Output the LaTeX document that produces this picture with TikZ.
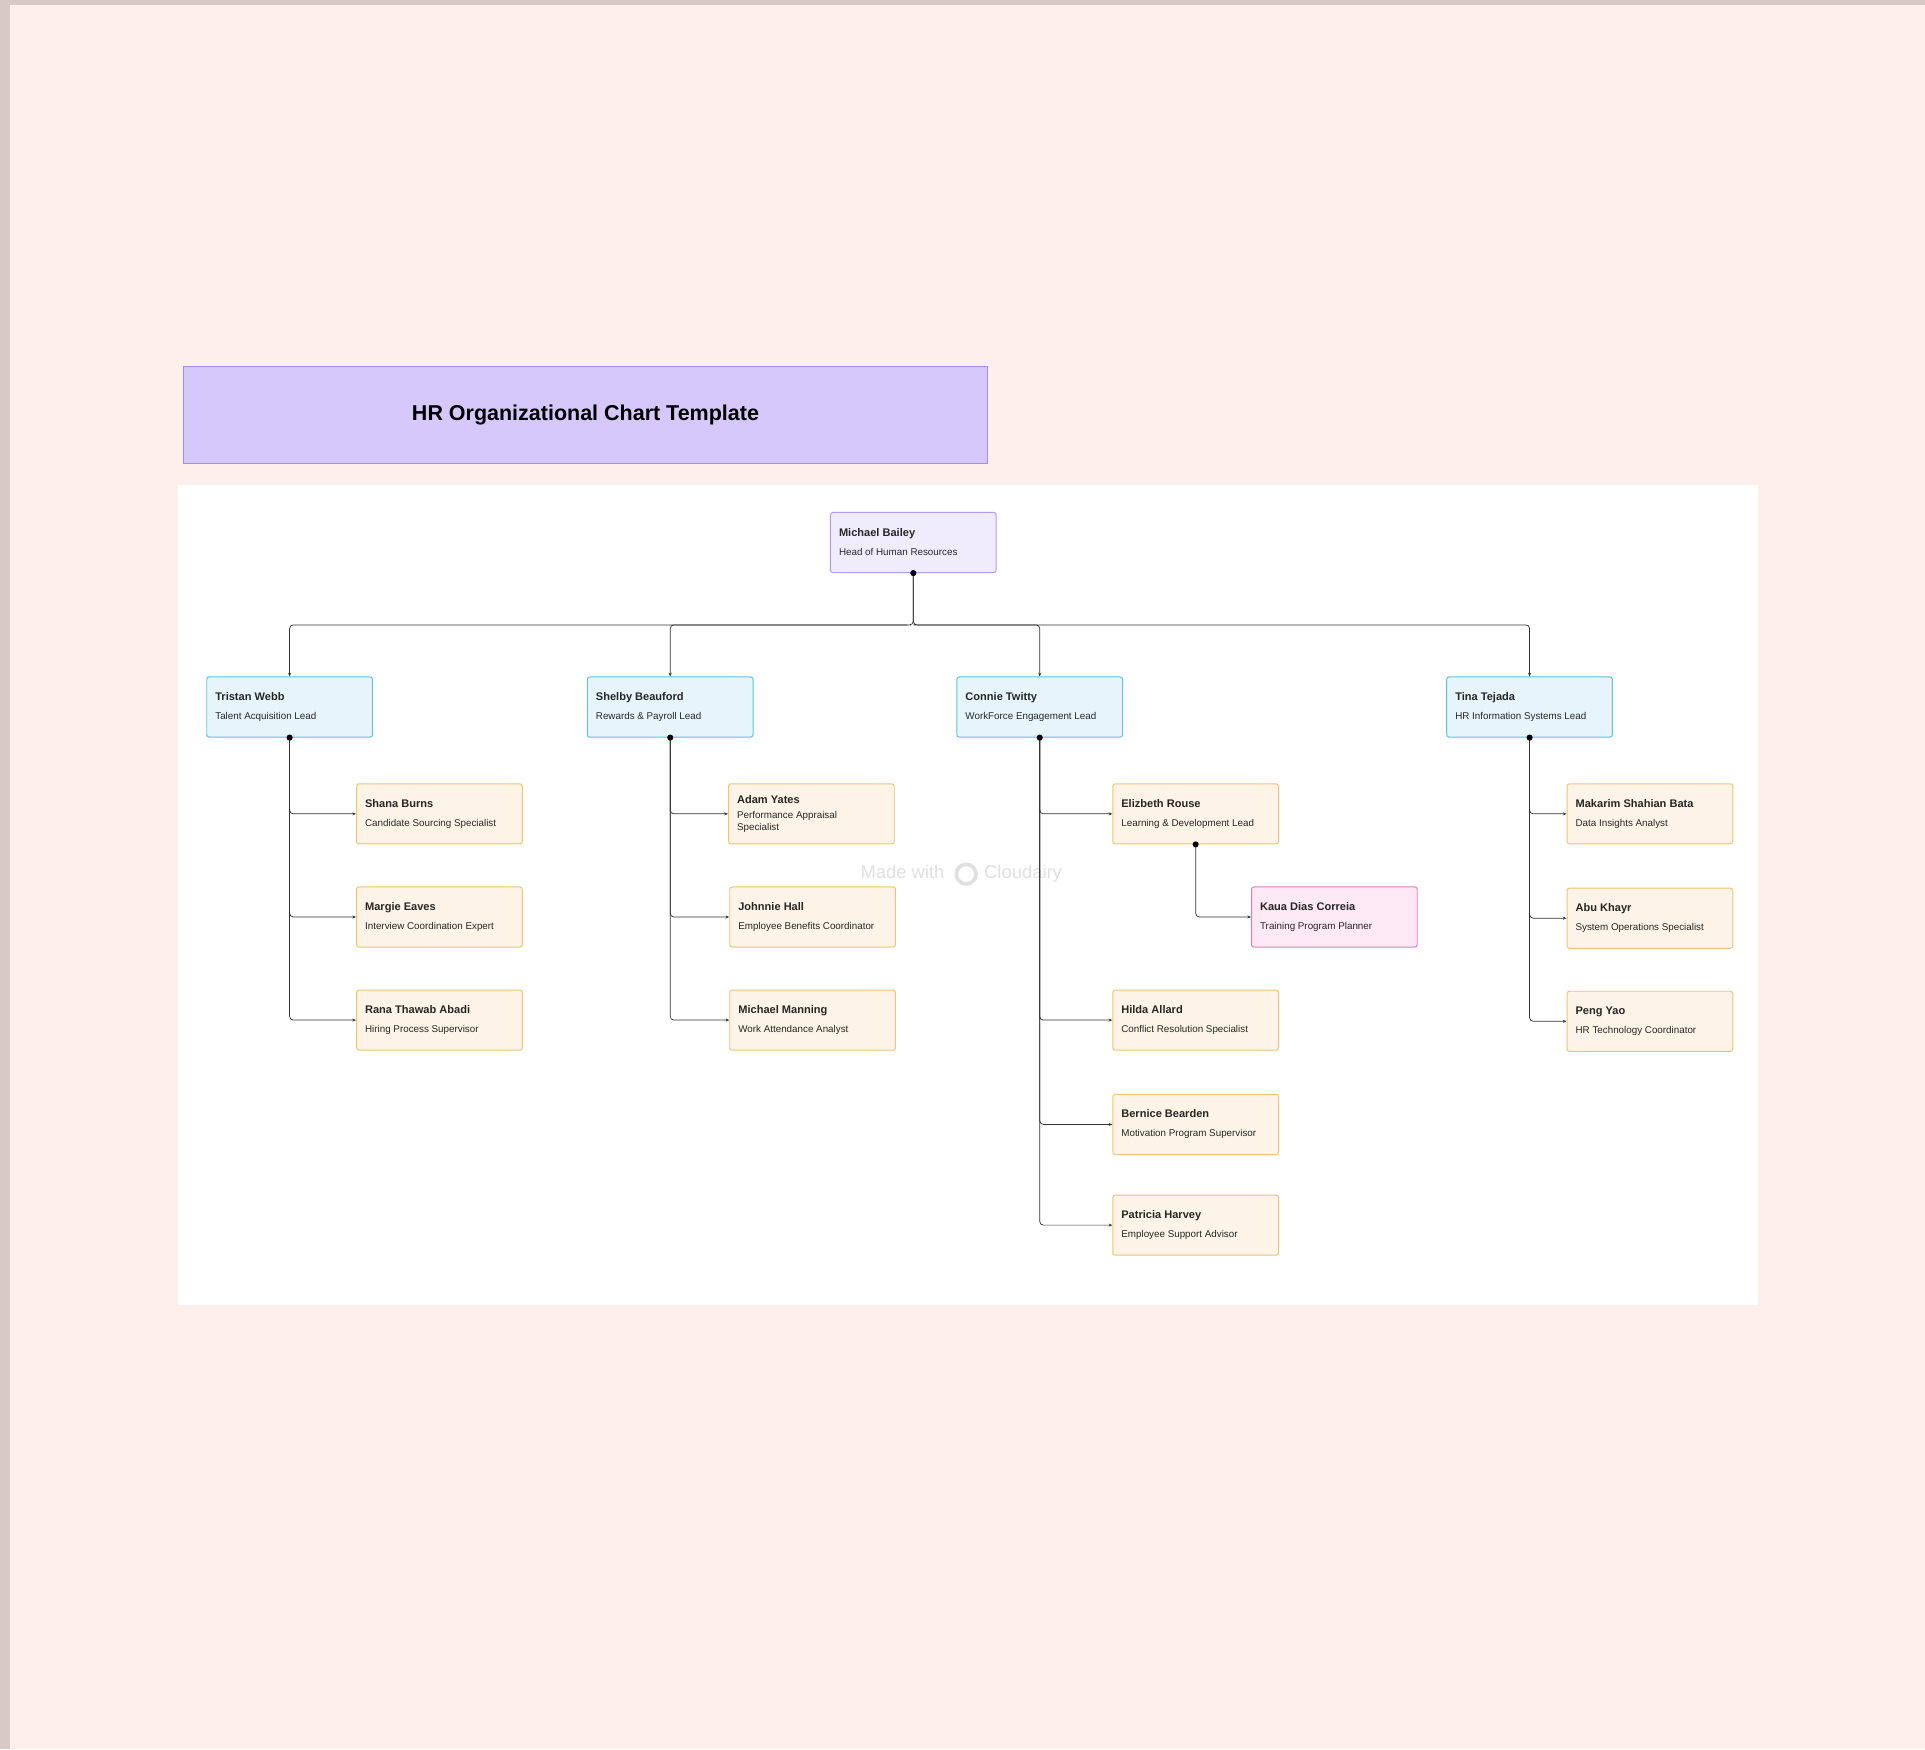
\documentclass[tikz,border=0pt]{standalone}
\usepackage{fontspec}
\setmainfont{Liberation Sans}
\usetikzlibrary{arrows.meta}
\definecolor{pagebg}{HTML}{FDF0EC}
\definecolor{edgebg}{HTML}{D9C9C5}
\definecolor{titlefill}{HTML}{D5C8FA}
\definecolor{titledraw}{HTML}{A58BEF}
\definecolor{rootfill}{HTML}{F1ECFD}
\definecolor{rootdraw}{HTML}{B19CF0}
\definecolor{leadfill}{HTML}{E6F5FB}
\definecolor{leaddraw}{HTML}{62C1E0}
\definecolor{staffill}{HTML}{FDF3E6}
\definecolor{staffdraw}{HTML}{EFC472}
\definecolor{pinkfill}{HTML}{FCE9F3}
\definecolor{pinkdraw}{HTML}{E07CC2}
\newcommand{\nm}[1]{{\fontsize{9}{11}\selectfont\bfseries #1}}
\tikzset{
  x=1pt,y=1pt,
  card/.style={rectangle,rounded corners=2pt,line width=0.8pt,anchor=north west,
    minimum width=135pt,minimum height=49pt,text width=121pt,inner sep=7pt,
    align=flush left,text=black!85,font=\fontsize{8}{9.5}\selectfont},
  root/.style={card,fill=rootfill,draw=rootdraw},
  lead/.style={card,fill=leadfill,draw=leaddraw},
  staff/.style={card,fill=staffill,draw=staffdraw},
  pink/.style={card,fill=pinkfill,draw=pinkdraw},
  link/.style={draw=black!80,line width=0.6pt,rounded corners=3pt,-{Stealth[length=3pt,width=2.5pt]}},
  dot/.style={circle,fill=black,inner sep=0pt,minimum size=5pt}
}
\begin{document}
\begin{tikzpicture}
\useasboundingbox (0,0) rectangle (1568,-1425);
% background
\fill[pagebg] (0,0) rectangle (1568,-1425);
\fill[edgebg] (0,0) rectangle (8,-1425);
\fill[edgebg] (0,0) rectangle (1568,-4);
\fill[white] (145,-395) rectangle (1432,-1063);

% title
\node[draw=titledraw,fill=titlefill,line width=0.8pt,anchor=north west,
  minimum width=655pt,minimum height=79pt,inner sep=0pt] (title) at (149,-298)
  {\fontsize{17.5}{20}\selectfont\bfseries HR Organizational Chart Template};

% head
\node[root] (bailey) at (676,-417) {\nm{Michael Bailey}\\[6pt]Head of Human Resources};

% leads
\node[lead] (webb) at (168,-551) {\nm{Tristan Webb}\\[6pt]Talent Acquisition Lead};
\node[lead] (beauford) at (478,-551) {\nm{Shelby Beauford}\\[6pt]Rewards \& Payroll Lead};
\node[lead] (twitty) at (779,-551) {\nm{Connie Twitty}\\[6pt]WorkForce Engagement Lead};
\node[lead] (tejada) at (1178,-551) {\nm{Tina Tejada}\\[6pt]HR Information Systems Lead};

% talent acquisition
\node[staff] (burns) at (290,-638) {\nm{Shana Burns}\\[6pt]Candidate Sourcing Specialist};
\node[staff] (eaves) at (290,-722) {\nm{Margie Eaves}\\[6pt]Interview Coordination Expert};
\node[staff] (abadi) at (290,-806) {\nm{Rana Thawab Abadi}\\[6pt]Hiring Process Supervisor};

% rewards & payroll
\node[staff] (yates) at (593,-638) {\nm{Adam Yates}\\[3pt]Performance Appraisal\\Specialist};
\node[staff] (hall) at (594,-722) {\nm{Johnnie Hall}\\[6pt]Employee Benefits Coordinator};
\node[staff] (manning) at (594,-806) {\nm{Michael Manning}\\[6pt]Work Attendance Analyst};

% engagement
\node[staff] (rouse) at (906,-638) {\nm{Elizbeth Rouse}\\[6pt]Learning \& Development Lead};
\node[pink] (correia) at (1019,-722) {\nm{Kaua Dias Correia}\\[6pt]Training Program Planner};
\node[staff] (allard) at (906,-806) {\nm{Hilda Allard}\\[6pt]Conflict Resolution Specialist};
\node[staff] (bearden) at (906,-891) {\nm{Bernice Bearden}\\[6pt]Motivation Program Supervisor};
\node[staff] (harvey) at (906,-973) {\nm{Patricia Harvey}\\[6pt]Employee Support Advisor};

% information systems
\node[staff] (bata) at (1276,-638) {\nm{Makarim Shahian Bata}\\[6pt]Data Insights Analyst};
\node[staff] (khayr) at (1276,-723) {\nm{Abu Khayr}\\[6pt]System Operations Specialist};
\node[staff] (yao) at (1276,-807) {\nm{Peng Yao}\\[6pt]HR Technology Coordinator};

% watermark
\node[text=black!12,font=\fontsize{15}{18}\selectfont] (mark) at (783,-712) {Made with \hspace{24pt} Cloudairy};
\draw[black!12,line width=3pt] (787,-712) circle (8pt);

% connectors
\coordinate (bus) at (743,-509);
\draw[link] (bailey.south) |- ([xshift=-4pt]bus) -| (webb.north);
\draw[link] ([xshift=-4pt]bus) -| (beauford.north);
\draw[link] (bailey.south) |- ([xshift=4pt]bus) -| (twitty.north);
\draw[link] ([xshift=4pt]bus) -| (tejada.north);

\draw[link] (webb.south) |- (burns.west);
\draw[link] (webb.south) |- (eaves.west);
\draw[link] (webb.south) |- (abadi.west);
\draw[link] (beauford.south) |- (yates.west);
\draw[link] (beauford.south) |- (hall.west);
\draw[link] (beauford.south) |- (manning.west);
\draw[link] (twitty.south) |- (rouse.west);
\draw[link] (rouse.south) |- (correia.west);
\draw[link] (twitty.south) |- (allard.west);
\draw[link] (twitty.south) |- (bearden.west);
\draw[link] (twitty.south) |- (harvey.west);
\draw[link] (tejada.south) |- (bata.west);
\draw[link] (tejada.south) |- (khayr.west);
\draw[link] (tejada.south) |- (yao.west);

\foreach \n in {bailey,webb,beauford,twitty,tejada,rouse}
  \node[dot] at (\n.south) {};
\end{tikzpicture}
\end{document}
